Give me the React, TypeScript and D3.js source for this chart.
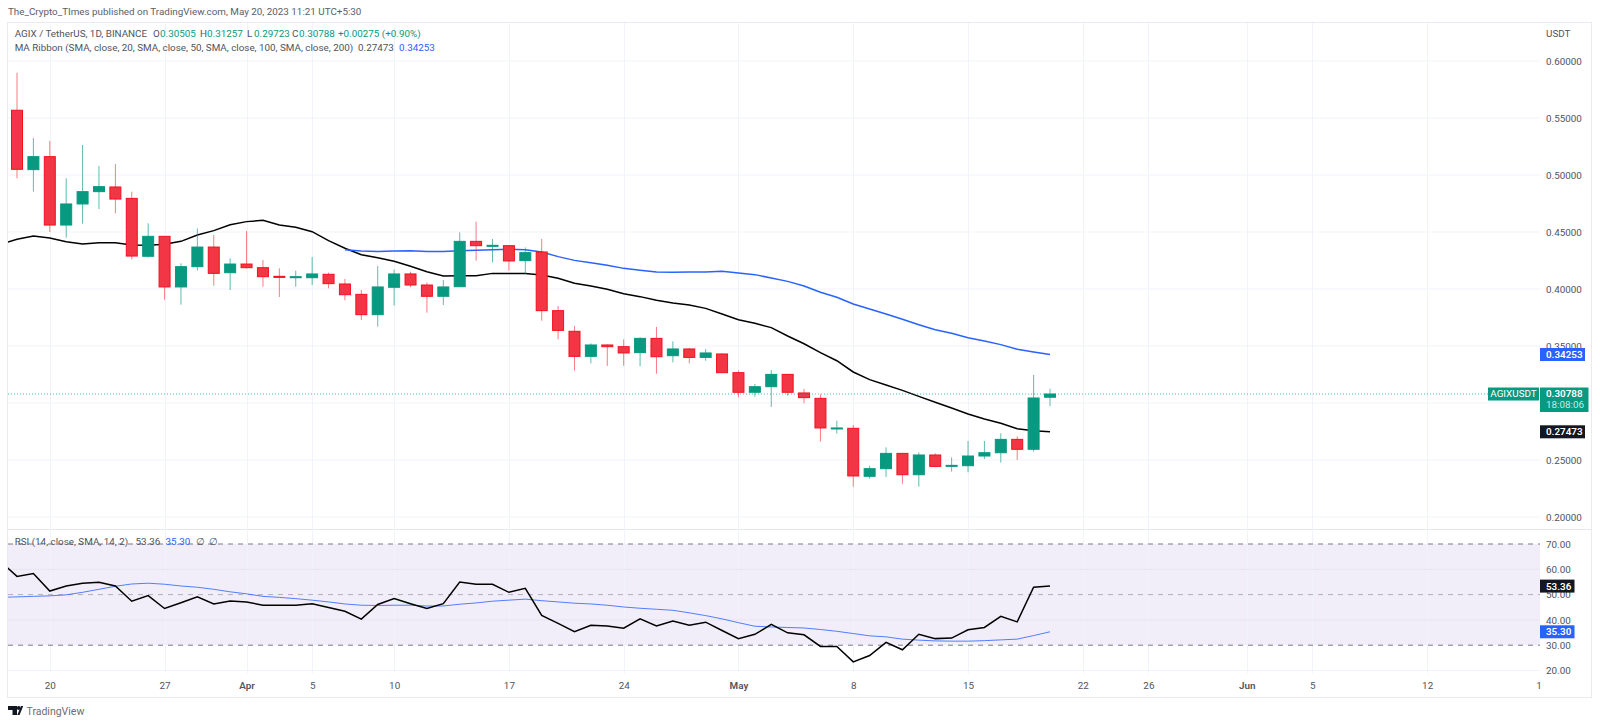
import React, { useEffect, useRef } from 'react'
import * as d3 from 'd3'

const opens = [.5568,.5047,.5161,.4561,.4746,.4854,.4895,.4795,.4287,.4462,.4018,.4196,.4368,.4143,.4219,.4187,.4111,.4102,.4099,.4129,.4044,.3953,.3775,.4015,.4132,.4035,.3936,.402,.4418,.438,.438,.4249,.4325,.381,.3629,.3409,.3509,.3494,.3442,.3567,.3415,.3474,.34,.343,.3266,.3094,.3143,.3251,.3088,.3041,.2775,.2778,.2357,.2424,.2558,.2371,.2544,.2444,.245,.2535,.2564,.2681,.2594,.30505]
const highs = [.5897,.5325,.5298,.4971,.5263,.5079,.5096,.4854,.4576,.4465,.4225,.4532,.4474,.4269,.4509,.4254,.4181,.4161,.4281,.4143,.4088,.3991,.4202,.417,.4152,.4058,.4079,.4497,.4591,.4439,.4386,.4365,.4439,.3851,.3675,.3523,.3515,.3558,.3576,.3667,.3541,.3483,.3474,.3436,.3284,.3167,.3289,.3254,.3123,.3076,.2845,.2807,.245,.2611,.2558,.2567,.2558,.2523,.2667,.2667,.2734,.2708,.3246,.31257]
const lows = [.4971,.4854,.45,.445,.4573,.4702,.4664,.426,.4275,.3906,.3863,.4161,.4029,.3991,.4181,.402,.393,.402,.4035,.4006,.3901,.3728,.367,.3854,.4015,.3792,.386,.402,.4249,.4234,.4161,.4132,.3722,.3558,.3284,.3348,.3325,.3327,.3322,.3257,.3357,.3348,.3371,.3266,.305,.3056,.2965,.3064,.2997,.2661,.2731,.2266,.2336,.2351,.2292,.2266,.2436,.2398,.2392,.2509,.2477,.25,.2573,.29723]
const closes = [.505,.5161,.4561,.4746,.4854,.4898,.4789,.4289,.4462,.4018,.4196,.4368,.4137,.4219,.4187,.4108,.4102,.4108,.4132,.4047,.395,.3775,.4018,.4132,.4035,.3936,.4018,.4418,.438,.4383,.4246,.4319,.381,.3637,.3409,.3509,.3494,.3439,.3567,.3406,.3474,.34,.3439,.3266,.3094,.3143,.3251,.3094,.3047,.2781,.2781,.236,.2424,.2558,.2371,.2544,.2444,.2453,.2535,.2564,.2681,.2594,.3044,.30788]

// first value of these two sits one day before the first candle
const maFast = [.4392,.4436,.4465,.4447,.4415,.4395,.4406,.4406,.4386,.4383,.4392,.4418,.4474,.4512,.4564,.4591,.4602,.4561,.4541,.4503,.4424,.4357,.4301,.4275,.4243,.4199,.4152,.4114,.4117,.4117,.4137,.4137,.4135,.4123,.4094,.405,.4026,.3997,.3959,.3933,.3901,.3877,.386,.383,.3781,.3731,.3699,.3661,.3588,.352,.3442,.3371,.3272,.3205,.3158,.3111,.3058,.3006,.2956,.2904,.286,.2822,.2775,.2757,.27473]
const rsi = [63,57.2,58.3,51.4,53.4,54.5,54.9,53.4,47.4,49.6,44.5,46.8,49.1,46.3,47.5,47.1,45.8,45.8,45.8,46.4,44.9,43.4,40.3,46.1,48.4,46.4,44.5,46.4,55,54.1,54.1,50.9,52.5,41.8,38.6,35.3,37.9,37.6,36.7,40.4,37.6,39.6,37.9,39.1,35.8,32.6,34.3,38.2,34.9,34.1,29.5,29.5,23.4,25.9,31.1,28.2,34.3,32.6,32.8,36.1,37,41.4,39.2,52.9,53.36]
const rsiMa = [48.9,49.1,49.3,49.5,49.9,50.9,52.1,53.3,54.2,54.5,54.1,53.4,52.9,52.1,51.1,50.3,49.3,48.9,48.4,47.8,47.1,46.3,45.8,45.7,45.8,45.8,45.5,45.5,46.2,46.7,47.4,47.8,48.2,47.6,47.1,46.6,46.3,45.8,45.1,44.6,44.2,43.8,42.8,41.7,40.4,38.9,37.5,37.2,37,36.8,36.2,35.5,34.6,33.7,33.3,32.4,32,31.7,31.6,31.6,31.8,32.1,32.4,33.8,35.3]
// starts at the 21st candle
const maSlow = [.4345,.4333,.433,.4333,.4336,.433,.433,.4336,.4339,.4345,.4348,.4345,.4325,.4284,.4251,.4231,.4208,.4181,.4164,.4149,.4146,.4149,.4149,.4155,.414,.4126,.4096,.4067,.4026,.3971,.3927,.3868,.3825,.3781,.3734,.3687,.3643,.3611,.3573,.3544,.3512,.3471,.3447,.34253]

const priceTicks = [.6,.55,.5,.45,.4,.35,.3,.25,.2]
const rsiTicks = [70,60,50,40,30,20]
const rsiDashed = [70,50,30]
const tickDates = ['2023-03-20','2023-03-27','2023-04-01','2023-04-05','2023-04-10','2023-04-17','2023-04-24','2023-05-01','2023-05-08','2023-05-15','2023-05-22','2023-05-26','2023-06-01','2023-06-05','2023-06-12']
const tickLabels = ['20','27','Apr','5','10','17','24','May','8','15','22','26','Jun','5','12']
const monthLabels = ['Apr','May','Jun']

const firstDay = new Date('2023-03-18T00:00:00Z')
const lastDay = new Date('2023-05-20T00:00:00Z')

const GREEN = '#089981'
const RED = '#F23645'
const BLUE = '#2962FF'
const DARK = '#131722'
const GRID = '#f0f3fa'
const FONT = 'Roboto, sans-serif'
const TEXT = '#50535e'
const SIZE = 9.85

export default function App() {
  const svgRef = useRef<SVGSVGElement>(null)

  useEffect(() => {
    if (!svgRef.current) return
    const svg = d3.select(svgRef.current)
    svg.selectAll('*').remove()
    svg.style('font-family', FONT)

    const left = 8
    const right = 1540
    const x = d3.scaleUtc().domain([firstDay, lastDay]).range([17, 1050])
    const y = d3.scaleLinear().domain([0.2, 0.6]).range([517, 61])
    const yRsi = d3.scaleLinear().domain([20, 70]).range([670.5, 544])
    const dayX = (i: number) => x(d3.utcDay.offset(firstDay, i))

    svg.append('clipPath').attr('id', 'plot').append('rect')
      .attr('x', left).attr('y', 22).attr('width', right - left).attr('height', 652)

    // frame
    svg.append('rect').attr('x', 7.5).attr('y', 22.5).attr('width', 1584).attr('height', 675)
      .attr('fill', 'none').attr('stroke', '#e9ebf1')
    svg.append('line').attr('x1', left).attr('x2', 1592).attr('y1', 529.5).attr('y2', 529.5).attr('stroke', '#e4e7ee')

    // rsi band
    svg.append('rect').attr('x', left).attr('width', right - left)
      .attr('y', yRsi(70)).attr('height', yRsi(30) - yRsi(70))
      .attr('fill', '#7E57C2').attr('fill-opacity', 0.1)

    // grid
    const dates = tickDates.map(d => new Date(d + 'T00:00:00Z'))
    svg.append('g').selectAll('line').data(dates).join('line')
      .attr('x1', d => Math.round(x(d)) + 0.5).attr('x2', d => Math.round(x(d)) + 0.5)
      .attr('y1', 23).attr('y2', 673).attr('stroke', GRID)
    svg.append('g').selectAll('line').data(priceTicks).join('line')
      .attr('x1', left).attr('x2', right)
      .attr('y1', d => y(d)).attr('y2', d => y(d)).attr('stroke', GRID)
    svg.append('g').selectAll('line').data(rsiTicks.filter(t => !rsiDashed.includes(t))).join('line')
      .attr('x1', left).attr('x2', right)
      .attr('y1', d => yRsi(d)).attr('y2', d => yRsi(d)).attr('stroke', d => d === 20 ? GRID : '#e6e3f0')
    svg.append('g').selectAll('line').data(rsiDashed).join('line')
      .attr('x1', left).attr('x2', right)
      .attr('y1', d => yRsi(d)).attr('y2', d => yRsi(d))
      .attr('stroke', '#787B86').attr('stroke-opacity', d => d === 50 ? 0.55 : 1)
      .attr('stroke-dasharray', '5 5')

    const plot = svg.append('g').attr('clip-path', 'url(#plot)')

    // moving averages go under the candles
    const maLine = d3.line<number>().x((_, i) => dayX(i - 1)).y(d => y(d))
    plot.append('path').attr('d', maLine(maFast)).attr('fill', 'none').attr('stroke', '#000').attr('stroke-width', 1.5)
    const slowLine = d3.line<number>().x((_, i) => dayX(i + 20)).y(d => y(d))
    plot.append('path').attr('d', slowLine(maSlow)).attr('fill', 'none').attr('stroke', BLUE).attr('stroke-width', 1.5)

    // last price dotted line
    svg.append('line').attr('x1', left).attr('x2', 1488)
      .attr('y1', y(closes[63])).attr('y2', y(closes[63]))
      .attr('stroke', GREEN).attr('stroke-opacity', 0.7).attr('stroke-dasharray', '1 2')

    // candles
    const candles = plot.append('g').selectAll('g').data(opens.map((o, i) => i)).join('g')
    const col = (i: number) => closes[i] >= opens[i] ? GREEN : RED
    candles.append('line')
      .attr('x1', i => dayX(i)).attr('x2', i => dayX(i))
      .attr('y1', i => y(highs[i])).attr('y2', i => y(lows[i]))
      .attr('stroke', col).attr('stroke-opacity', 0.65)
    candles.append('rect')
      .attr('x', i => dayX(i) - 5.5).attr('width', 11)
      .attr('y', i => y(Math.max(opens[i], closes[i])))
      .attr('height', i => Math.max(1, Math.abs(y(opens[i]) - y(closes[i]))))
      .attr('fill', col).attr('stroke', i => closes[i] >= opens[i] ? GREEN : '#f5101f').attr('stroke-width', 1)

    // rsi lines
    const rsiLine = d3.line<number>().x((_, i) => dayX(i - 1)).y(d => yRsi(d))
    plot.append('path').attr('d', rsiLine(rsiMa)).attr('fill', 'none').attr('stroke', BLUE).attr('stroke-opacity', 0.8).attr('stroke-width', 1)
    plot.append('path').attr('d', rsiLine(rsi)).attr('fill', 'none').attr('stroke', '#000').attr('stroke-width', 1.5)

    // axes
    const priceAxis = svg.append('g').attr('transform', `translate(${right},0)`)
      .call(d3.axisRight(y).tickValues(priceTicks).tickFormat(d => (d as number).toFixed(5)).tickSize(0).tickPadding(6))
    const rsiAxis = svg.append('g').attr('transform', `translate(${right},0)`)
      .call(d3.axisRight(yRsi).tickValues(rsiTicks).tickFormat(d => (d as number).toFixed(2)).tickSize(0).tickPadding(6))
    const timeAxis = svg.append('g').attr('transform', 'translate(0,673)')
      .call(d3.axisBottom(x).tickValues(dates).tickFormat((_, i) => tickLabels[i]).tickSize(0).tickPadding(9))
    for (const a of [priceAxis, rsiAxis, timeAxis]) {
      a.select('.domain').remove()
      a.selectAll('text').attr('fill', TEXT).style('font-family', FONT).style('font-size', SIZE + 'px')
    }
    timeAxis.selectAll('text').filter((_, i) => monthLabels.includes(tickLabels[i])).attr('font-weight', 600)

    const text = (s: string, tx: number, ty: number, fill = TEXT, size = SIZE, weight = 400, anchor = 'start') =>
      svg.append('text').attr('x', tx).attr('y', ty).attr('dy', '0.35em')
        .attr('fill', fill).attr('font-size', size).attr('font-weight', weight).attr('text-anchor', anchor).text(s)

    // clipped label at the right end of the time axis
    text('1', 1539, 685.5, TEXT, SIZE, 400, 'middle')
    text('USDT', 1546, 33.5)

    // header and legends
    text('The_Crypto_TImes published on TradingView.com, May 20, 2023 11:21 UTC+5:30', 8, 12, '#5a5e69')
    text('AGIX / TetherUS, 1D, BINANCE', 14.7, 34)
    const ohlc: [string, string, number][] = [['O', '0.30505', 153], ['H', '0.31257', 200], ['L', '0.29723', 247], ['C', '0.30788', 292]]
    ohlc.forEach(([k, v, px]) => {
      text(k, px, 34)
      text(v, px + 7, 34, GREEN)
    })
    text('+0.00275 (+0.90%)', 338, 34, GREEN)
    text('MA Ribbon (SMA, close, 20, SMA, close, 50, SMA, close, 100, SMA, close, 200)', 14.7, 48)
    text('0.27473', 358, 48)
    text('0.34253', 399, 48, BLUE)
    text('RSI (14, close, SMA, 14, 2)', 14.7, 541.5)
    text('53.36', 135.5, 541.5)
    text('35.30', 165.5, 541.5, BLUE)
    text('∅', 196, 541.5)
    text('∅', 208.5, 541.5)

    // value tags
    const tag = (s: string, val: number, w: number, fill: string) => {
      svg.append('rect').attr('x', right).attr('y', val - 6.5).attr('width', w).attr('height', 13).attr('fill', fill)
      text(s, right + 6, val, '#fff', SIZE, 600)
    }
    tag('0.34253', y(maSlow[maSlow.length - 1]), 45, BLUE)
    tag('0.27473', y(maFast[maFast.length - 1]), 45, DARK)
    tag('53.36', yRsi(rsi[rsi.length - 1]), 34.5, DARK)
    tag('35.30', yRsi(rsiMa[rsiMa.length - 1]), 34.5, BLUE)
    const py = y(closes[63])
    svg.append('rect').attr('x', 1488).attr('y', py - 6.5).attr('width', 51).attr('height', 13).attr('fill', GREEN)
    text('AGIXUSDT', 1513.5, py, '#fff', SIZE, 400, 'middle')
    svg.append('rect').attr('x', right).attr('y', py - 6.5).attr('width', 48.5).attr('height', 24.5).attr('fill', GREEN)
    text('0.30788', right + 6, py, '#fff', SIZE, 600)
    text('18:08:06', right + 6, py + 11, '#c9e8e2')

    // logo
    const logo = svg.append('g').attr('fill', DARK)
    logo.append('path').attr('d', 'M8 706h9v9h-4.5v-5H8z')
    logo.append('circle').attr('cx', 18.7).attr('cy', 708).attr('r', 1.9)
    logo.append('path').attr('d', 'M21 706h2.2l-3.6 9h-2.3z')
    text('TradingView', 26.5, 711, '#6a6d78', 10.5)
  }, [])

  return (
    <svg
      ref={svgRef}
      width={1600}
      height={726}
      style={{ position: 'absolute', left: 0, top: 0, background: '#fff' }}
    />
  )
}
